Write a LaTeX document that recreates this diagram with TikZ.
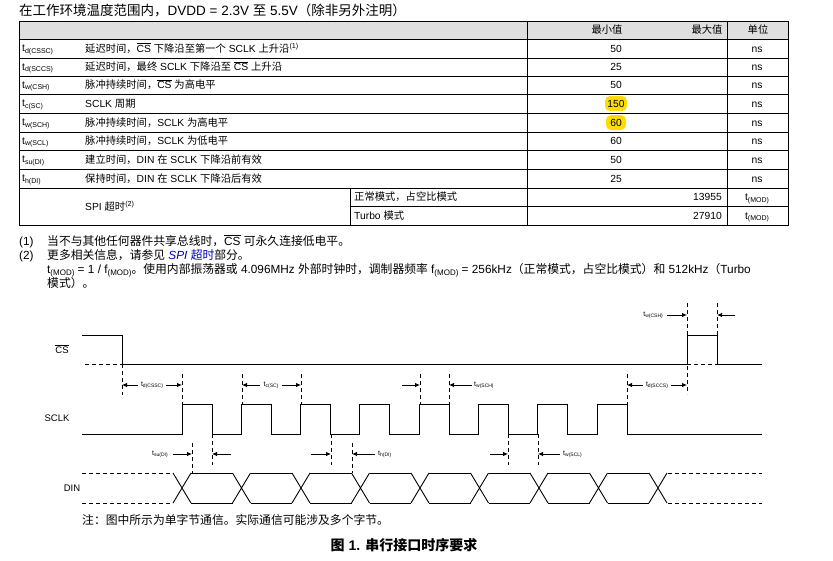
\documentclass[tikz,border=0pt]{standalone}
\usepackage{fontspec}
\setmainfont{Liberation Sans}
\newfontfamily\cjk{Noto Sans CJK SC}
\usetikzlibrary{arrows.meta}
\newcommand{\ts}[1]{t\raisebox{-0.35ex}{\fontsize{7}{7}\selectfont #1}}
\newcommand{\tsf}[1]{t\raisebox{-0.35ex}{\fontsize{8}{8}\selectfont #1}}
\newcommand{\tsm}[1]{t\raisebox{-0.35ex}{\fontsize{5}{5}\selectfont #1}}
\newcommand{\CSb}{$\overline{\mbox{CS}}$}
\begin{document}
\begin{tikzpicture}[x=1pt,y=-1pt,
  tx/.style={inner sep=0pt,font=\fontsize{10.3}{11}\selectfont,anchor=base west},
  fx/.style={inner sep=0pt,font=\fontsize{11.8}{12}\selectfont,anchor=base west},
  cx/.style={inner sep=0pt,font=\fontsize{10.3}{11}\selectfont,anchor=base},
  grid/.style={line width=0.8pt},
  wave/.style={line width=0.9pt},
  dsh/.style={line width=0.8pt,dash pattern=on 4pt off 3pt},
  dim/.style={line width=0.8pt,-{Latex[length=5pt,width=4.5pt]}},
  lab/.style={inner sep=0pt,font=\fontsize{7}{8}\selectfont},
  sig/.style={inner sep=0pt,font=\fontsize{9.5}{10}\selectfont}]
\useasboundingbox (0,0) rectangle (833,560);
% title
\node[tx,font=\fontsize{13.5}{14}\selectfont] (title) at (19,15) {{\cjk 在工作环境温度范围内，}DVDD = 2.3V {\cjk 至} 5.5V{\cjk （除非另外注明）}};
% table
\fill[gray!25] (19,21) rectangle (788,39);
\draw[grid] (19,21) rectangle (788,225);
\foreach \y in {39,58,76,94,113,132,150,169,188} \draw[grid] (19,\y) -- (788,\y);
\draw[grid] (350,206) -- (788,206);
\draw[grid] (350,188) -- (350,225);
\draw[grid] (527,21) -- (527,225);
\draw[grid] (727,21) -- (727,225);
\node[cx] (h1) at (607,33.5) {\cjk 最小值};
\node[cx] (h2) at (707,33.5) {\cjk 最大值};
\node[cx] (h3) at (758,33.5) {\cjk 单位};
\fill[yellow!80!orange,rounded corners=5pt] (605,96) rectangle (627,111);
\fill[yellow!80!orange,rounded corners=5pt] (606,115) rectangle (626,130);
\foreach \s/\y [count=\i] in {d(CSSC)/48.5,d(SCCS)/67,w(CSH)/85,c(SC)/103.5,w(SCH)/122.5,w(SCL)/141,su(DI)/159.5,h(DI)/178.5}
  \node[tx] (s\i) at (22,\y+3) {\ts{\s}};
\node[tx] (d1) at (85,52) {{\cjk 延迟时间，}\CSb{} {\cjk 下降沿至第一个} SCLK {\cjk 上升沿}\textsuperscript{(1)}};
\node[tx] (d2) at (85,70.5) {{\cjk 延迟时间，最终} SCLK {\cjk 下降沿至} \CSb{} {\cjk 上升沿}};
\node[tx] (d3) at (85,88.5) {{\cjk 脉冲持续时间，}\CSb{} {\cjk 为高电平}};
\node[tx] (d4) at (85,107) {SCLK {\cjk 周期}};
\node[tx] (d5) at (85,126) {{\cjk 脉冲持续时间，}SCLK {\cjk 为高电平}};
\node[tx] (d6) at (85,144.5) {{\cjk 脉冲持续时间，}SCLK {\cjk 为低电平}};
\node[tx] (d7) at (85,163) {{\cjk 建立时间，}DIN {\cjk 在} SCLK {\cjk 下降沿前有效}};
\node[tx] (d8) at (85,182) {{\cjk 保持时间，}DIN {\cjk 在} SCLK {\cjk 下降沿后有效}};
\node[tx] (spi) at (85,210) {SPI {\cjk 超时}\textsuperscript{(2)}};
\node[tx] (m1) at (354,200.5) {\cjk 正常模式，占空比模式};
\node[tx] (m2) at (354,219) {Turbo {\cjk 模式}};
\foreach \v/\y [count=\i] in {50/48.5,25/67,50/85,150/103.5,60/122.5,60/141,50/159.5,25/178.5}{
  \node[cx] (v\i) at (616,\y+3.5) {\v};
  \node[cx] (u\i) at (757,\y+3.5) {ns};}
\node[cx,anchor=base east] (x1) at (722,200.5) {13955};
\node[cx,anchor=base east] (x2) at (722,219) {27910};
\node[cx] (u9) at (757,200.5) {\ts{(MOD)}};
\node[cx] (u10) at (757,219) {\ts{(MOD)}};
% footnotes
\node[fx] (f1a) at (19,245) {(1)};
\node[fx] (f1) at (47,245) {{\cjk 当不与其他任何器件共享总线时，}\CSb{} {\cjk 可永久连接低电平。}};
\node[fx] (f2a) at (19,259) {(2)};
\node[fx] (f2) at (47,259) {{\cjk 更多相关信息，请参见} \textcolor{blue!75!black}{\itshape SPI {\cjk 超时}}{\cjk 部分。}};
\node[fx] (f3) at (47,273) {\tsf{(MOD)} = 1 / f\raisebox{-0.35ex}{\fontsize{8}{8}\selectfont (MOD)}{\cjk 。使用内部振荡器或} 4.096MHz {\cjk 外部时钟时，调制器频率} f\raisebox{-0.35ex}{\fontsize{8}{8}\selectfont (MOD)} = 256kHz{\cjk （正常模式，占空比模式）和} 512kHz{\cjk （}Turbo};
\node[fx] (f4) at (47,287) {\cjk 模式）。};
% signal labels
\node[sig] (lcs) at (62,349) {\CSb};
\node[sig] (lsclk) at (57,418) {SCLK};
\node[sig] (ldin) at (72,488) {DIN};
% CS
\draw[wave] (82,335) -- (122,335) -- (122,364) -- (687,364) -- (687,335) -- (717,335) -- (717,364) -- (762,364);
\draw[dsh] (85,364) -- (122,364);
\draw[white,line width=1.4pt] (688,364) -- (716,364);
\draw[dsh] (687,364) -- (717,364);
% SCLK
\draw[wave] (82,434) -- (182,434)
 \foreach \i in {0,...,7}{ -- ({182+59.3*\i},434) -- ({182+59.3*\i},404) -- ({212+59.3*\i},404) -- ({212+59.3*\i},434)} -- (762,434);
% DIN
\draw[dsh] (82,473) -- (173,473) (82,503) -- (173,503);
\draw[dsh] (668,473) -- (762,473) (668,503) -- (762,503);
\foreach \i in {0,...,8}{
  \pgfmathsetmacro\c{182+59.5*\i}
  \draw[wave] (\c-9,473) -- (\c+9,503) (\c-9,503) -- (\c+9,473);}
\foreach \i in {0,...,7}{
  \pgfmathsetmacro\c{182+59.5*\i}
  \draw[wave] (\c+9,473) -- (\c+50.5,473) (\c+9,503) -- (\c+50.5,503);}
% dashed guides
\draw[dsh] (122,364) -- (122,395);
\foreach \x in {182,242,301,420,449,627} \draw[dsh] (\x,374) -- (\x,404);
\draw[dsh] (687,303) -- (687,394);
\draw[dsh] (717,303) -- (717,335);
\foreach \x in {212,331,508,538} \draw[dsh] (\x,434) -- (\x,465);
\foreach \x in {192,352} \draw[dsh] (\x,443) -- (\x,473);
% dimension arrows
\node[lab] (ld1) at (152,385) {\tsm{d(CSSC)}};
\draw[dim] (ld1.west) ++(-3,0) -- (122,385);
\draw[dim] (ld1.east) ++(3,0) -- (182,385);
\node[lab] (ld2) at (271,385) {\tsm{c(SC)}};
\draw[dim] (ld2.west) ++(-3,0) -- (242,385);
\draw[dim] (ld2.east) ++(3,0) -- (301,385);
\coordinate (a3) at (402,385);
\draw[dim] (a3) -- (420,385);
\node[lab,anchor=west] (ld3) at (474,385) {\tsm{w(SCH)}};
\draw[dim] (ld3.west) ++(-2,0) -- (449,385);
\node[lab] (ld4) at (657,385) {\tsm{d(SCCS)}};
\draw[dim] (ld4.west) ++(-3,0) -- (627,385);
\draw[dim] (ld4.east) ++(3,0) -- (687,385);
\node[lab,anchor=east] (ld5) at (663,315) {\tsm{w(CSH)}};
\draw[dim] (ld5.east) ++(4,0) -- (687,315);
\coordinate (a5) at (735,315);
\draw[dim] (a5) -- (717,315);
\node[lab,anchor=east] (ld6) at (168,454) {\tsm{su(DI)}};
\draw[dim] (ld6.east) ++(5,0) -- (192,454);
\coordinate (a6) at (231,454);
\draw[dim] (a6) -- (212,454);
\coordinate (a7) at (311,454);
\draw[dim] (a7) -- (331,454);
\node[lab,anchor=west] (ld7) at (378,454) {\tsm{h(DI)}};
\draw[dim] (ld7.west) ++(-3,0) -- (352,454);
\coordinate (a8) at (490,454);
\draw[dim] (a8) -- (508,454);
\node[lab,anchor=west] (ld8) at (563,454) {\tsm{w(SCL)}};
\draw[dim] (ld8.west) ++(-3,0) -- (538,454);
% notes
\node[fx] (note) at (82,524) {\cjk 注：图中所示为单字节通信。实际通信可能涉及多个字节。};
\node[cx,font=\fontsize{14}{15}\selectfont\bfseries] (cap) at (404,550) {{\cjk\bfseries 图} 1. {\cjk\bfseries 串行接口时序要求}};
\end{tikzpicture}
\end{document}
